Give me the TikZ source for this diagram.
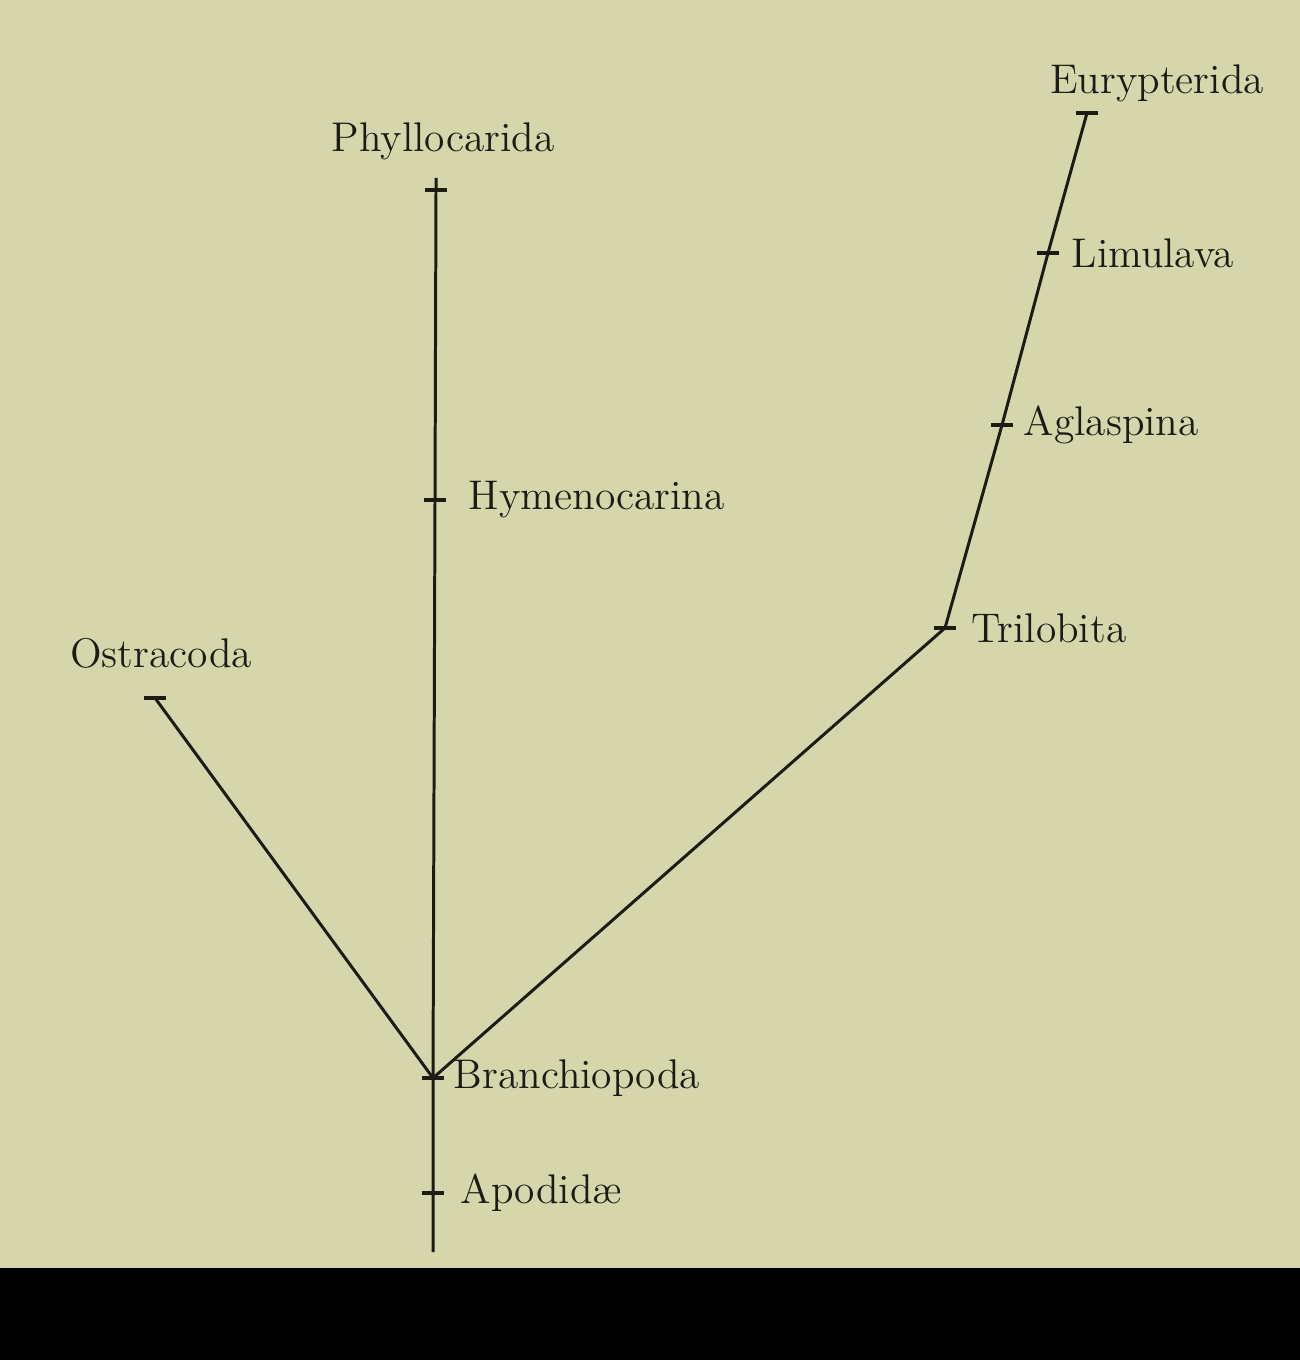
\documentclass[tikz,border=0pt]{standalone}
\usetikzlibrary{positioning}
\definecolor{paper}{RGB}{214,214,172}
\definecolor{ink}{RGB}{28,27,20}

\begin{document}
\begin{tikzpicture}[x=1cm,y=-1cm]
            \tikzset{branch/.style={draw=ink, line width=0.85pt}}
            \tikzset{taxon/.style={text=ink, inner sep=0pt, font=\fontsize{11.8}{14}\selectfont}}
            \fill[paper] (0,0) rectangle (13,12.68);
            \fill[black] (0,12.68) rectangle (13,13.6);
            \useasboundingbox (0,0) rectangle (13,13.6);
            \coordinate (root) at (4.33,12.52);
            \coordinate (apo) at (4.33,11.93);
            \coordinate (bra) at (4.33,10.78);
            \coordinate (hym) at (4.35,5.00);
            \coordinate (phy) at (4.36,1.90);
            \coordinate (phytop) at (4.36,1.78);
            \coordinate (ost) at (1.55,6.98);
            \coordinate (tri) at (9.45,6.28);
            \coordinate (agl) at (10.02,4.25);
            \coordinate (lim) at (10.48,2.53);
            \coordinate (eur) at (10.87,1.13);
            \draw[branch] (root) to (apo) to (bra) to (hym) to (phy) to (phytop);
            \draw[branch] (bra) to (ost);
            \draw[branch] (bra) to (tri) to (agl) to (lim) to (eur);
            \foreach \p in {apo,bra,hym,phy,ost,tri,agl,lim,eur}
                \draw[branch, line width=1.1pt] (\p) ++(-0.11,0) -- ++(0.22,0);
            \node[taxon, above=0.17cm of phytop, xshift=0.07cm] (phyllocarida) {Phyllocarida};
            \node[taxon, right=0.33cm of hym] (hymenocarina) {Hymenocarina};
            \node[taxon, right=0.2cm of bra] (branchiopoda) {Branchiopoda};
            \node[taxon, right=0.27cm of apo] (apodidae) {Apodid\ae};
            \node[taxon, above=0.29cm of ost, xshift=0.06cm] (ostracoda) {Ostracoda};
            \node[taxon, right=0.26cm of tri] (trilobita) {Trilobita};
            \node[taxon, right=0.21cm of agl] (aglaspina) {Aglaspina};
            \node[taxon, right=0.23cm of lim] (limulava) {Limulava};
            \node[taxon, above=0.1cm of eur, xshift=0.7cm] (eurypterida) {Eurypterida};
        \end{tikzpicture}
\end{document}
